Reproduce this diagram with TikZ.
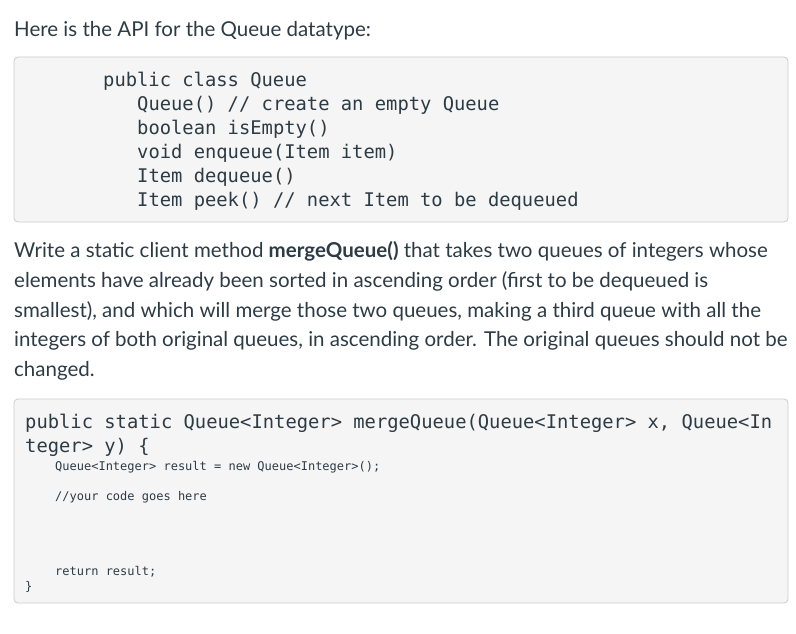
\documentclass[tikz,border=0pt]{standalone}
\usepackage{fontspec}
\setmainfont{Lato}
\setmonofont{DejaVu Sans Mono}
\definecolor{txt}{HTML}{2D3B45}
\definecolor{boxbg}{HTML}{F5F5F5}
\definecolor{boxln}{HTML}{C7CDD1}
\begin{document}
\begin{tikzpicture}[x=1pt,y=-1pt,
  every node/.style={inner sep=0pt,anchor=west,text=txt},
  para/.style={font=\fontsize{20.5}{23}\selectfont},
  big/.style={font=\ttfamily\fontsize{18.8}{22}\selectfont},
  small/.style={font=\ttfamily\fontsize{12}{14}\selectfont},
  codebox/.style={draw=boxln,fill=boxbg,rounded corners=4pt,line width=0.8pt}]
\useasboundingbox (0,0) rectangle (796,634);
\node[para] (h) at (14,31) {Here is the API for the Queue datatype:};
\draw[codebox] (14,57) rectangle (788,222);
\node[big] (c1) at (103,81) {public class Queue};
\node[big] (c2) at (137,105) {Queue() // create an empty Queue};
\node[big] (c3) at (137,129) {boolean isEmpty()};
\node[big] (c4) at (137,153) {void enqueue(Item item)};
\node[big] (c5) at (137,177) {Item dequeue()};
\node[big] (c6) at (137,201) {Item peek() // next Item to be dequeued};
\node[para] (p1) at (14,251) {Write a static client method \textbf{mergeQueue()} that takes two queues of integers whose};
\node[para] (p2) at (14,281) {elements have already been sorted in ascending order (first to be dequeued is};
\node[para] (p3) at (14,311) {smallest), and which will merge those two queues, making a third queue with all the};
\node[para] (p4) at (14,341) {integers of both original queues, in ascending order. The original queues should not be};
\node[para] (p5) at (14,371) {changed.};
\draw[codebox] (14,399) rectangle (788,603);
\node[big] (d1) at (25,423) {public static Queue<Integer> mergeQueue(Queue<Integer> x, Queue<In};
\node[big] (d2) at (25,447) {teger> y) \{};
\node[small] (s1) at (55,467) {Queue<Integer> result = new Queue<Integer>();};
\node[small] (s2) at (55,497) {//your code goes here};
\node[small] (s3) at (55,572) {return result;};
\node[small] (s4) at (25,587) {\}};
\end{tikzpicture}
\end{document}
